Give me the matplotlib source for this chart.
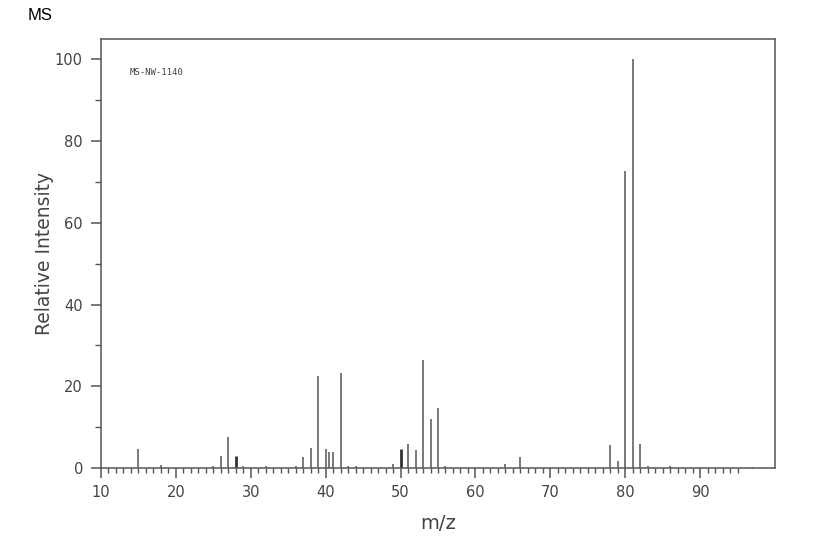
import matplotlib.pyplot as plt
from matplotlib.ticker import MultipleLocator, FixedLocator

# peak positions (m/z) and relative intensities
mz = [15, 18, 25, 26, 27, 29, 32, 36, 37, 38, 39, 40, 40.5, 41, 42, 43,
      44, 49, 51, 52, 53, 54, 55, 56, 64, 66, 78, 79, 80, 81, 82, 83, 86, 97]
intensity = [4.7, 0.8, 0.5, 3.0, 7.6, 0.5, 0.4, 0.5, 2.7, 4.9, 22.4, 4.6, 3.8, 3.8, 23.3, 0.5,
             0.4, 1.1, 5.9, 4.3, 26.5, 12.0, 14.8, 0.6, 1.1, 2.7, 5.7, 1.6, 72.8, 100.0, 6.0, 0.5, 0.4, 0.3]
# peaks drawn with a heavier stroke
mz_bold = [28, 50]
intensity_bold = [3.0, 4.6]

fig = plt.figure(figsize=(8.25, 5.42), dpi=100)
ax = fig.add_axes([0.1224, 0.1365, 0.817, 0.7915])

grey = '#555555'
ax.vlines(mz, 0, intensity, color=grey, lw=1.1)
ax.vlines(mz_bold, 0, intensity_bold, color='#333333', lw=2.0)

ax.set_xlim(10, 100)
ax.set_ylim(0, 105)

ax.xaxis.set_major_locator(FixedLocator(range(10, 100, 10)))
ax.xaxis.set_minor_locator(FixedLocator(range(10, 96)))
ax.yaxis.set_major_locator(MultipleLocator(20))
ax.yaxis.set_minor_locator(MultipleLocator(10))

ax.tick_params(axis='x', which='major', length=7.5, width=1.1, color=grey, labelsize=10.5, labelcolor='#444444', pad=5)
ax.tick_params(axis='x', which='minor', length=3.5, width=1.0, color=grey)
ax.tick_params(axis='y', which='major', length=7, width=1.1, color=grey, labelsize=10.5, labelcolor='#444444', pad=6)
ax.tick_params(axis='y', which='minor', length=4.5, width=1.0, color=grey)
for s in ax.spines.values():
    s.set_color(grey)
    s.set_linewidth(1.1)

ax.set_xlabel('m/z', fontsize=14, color='#444444', labelpad=10)
ax.set_ylabel('Relative Intensity', fontsize=13.5, color='#444444', labelpad=1)

ax.text(13.8, 96.7, 'MS-NW-1140', family='DejaVu Sans Mono', fontsize=6.5, color='#444444', va='center')
fig.text(0.033, 0.971, 'MS', family='Liberation Sans', fontsize=12, color='black', va='center')

fig.savefig('out.png', dpi=100)
